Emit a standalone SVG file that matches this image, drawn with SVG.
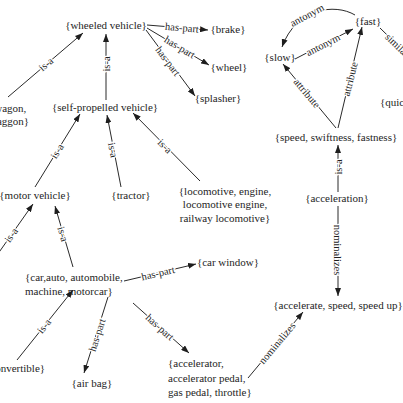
<svg xmlns="http://www.w3.org/2000/svg" width="403" height="403" viewBox="0 0 403 403" font-family="'Liberation Serif', 'DejaVu Serif', serif">
<style>
text{font-family:'Liberation Serif','DejaVu Serif',serif}
.n{font-size:11px;fill:#1e1e1e}
.m{text-anchor:middle}
.e{fill:none;stroke:#2a2a2a;stroke-width:1}
.l{font-size:10.5px;fill:#1e1e1e;text-anchor:middle;stroke:#fff;stroke-width:2.5px;paint-order:stroke;stroke-linejoin:round}
</style>
<defs>
<marker id="a" viewBox="0 0 8 6" refX="8" refY="3" markerWidth="8" markerHeight="6" markerUnits="userSpaceOnUse" orient="auto">
<path d="M0,0 L8,3 L0,6 z" fill="#1e1e1e"/>
</marker>
</defs>
<rect width="403" height="403" fill="#fff"/>
<g id="connectors">
<path class="e" marker-end="url(#a)" d="M147,25 L208,30"/>
<text class="l" dy="0.35em" transform="translate(182,27.5) rotate(5)">has-part</text>
<path class="e" marker-end="url(#a)" d="M147,28 L209,65"/>
<text class="l" dy="0.35em" transform="translate(180,47) rotate(31)">has-part</text>
<path class="e" marker-end="url(#a)" d="M146,30 L195,96"/>
<text class="l" dy="0.35em" transform="translate(168,61) rotate(53)">has-part</text>
<path class="e" marker-end="url(#a)" d="M8,97 L83,33"/>
<text class="l" dy="0.35em" transform="translate(46,64) rotate(-40)">is-a</text>
<path class="e" marker-end="url(#a)" d="M106,100 L106,34"/>
<text class="l" dy="0.35em" transform="translate(106,64) rotate(-90)">is-a</text>
<path class="e" marker-end="url(#a)" d="M35,187 L80,114"/>
<text class="l" dy="0.35em" transform="translate(57,151) rotate(-58)">is-a</text>
<path class="e" marker-end="url(#a)" d="M121,187 L107,115"/>
<text class="l" dy="0.35em" transform="translate(113,150) rotate(79)">is-a</text>
<path class="e" marker-end="url(#a)" d="M200,181 L133,113"/>
<text class="l" dy="0.35em" transform="translate(165,146) rotate(45)">is-a</text>
<path class="e" marker-end="url(#a)" d="M338,192 L338,145"/>
<text class="l" dy="0.35em" transform="translate(338,167) rotate(-90)">is-a</text>
<path class="e" marker-end="url(#a)" d="M338,206 L338,296"/>
<text class="l" dy="0.35em" transform="translate(338,250) rotate(90)">nominalizes</text>
<path class="e" marker-end="url(#a)" d="M338,128 L362,27"/>
<text class="l" dy="0.35em" transform="translate(350,79) rotate(-76)">attribute</text>
<path class="e" marker-end="url(#a)" d="M336,128 L283,64"/>
<text class="l" dy="0.35em" transform="translate(307,93) rotate(50)">attribute</text>
<path class="e" marker-end="url(#a)" d="M295,59 L353,29"/>
<text class="l" dy="0.35em" transform="translate(323,44.5) rotate(-27)">antonym</text>
<path class="e" marker-end="url(#a)" d="M355,15 C335,3 296,8 282,47"/>
<text class="l" dy="0.35em" transform="translate(307,15) rotate(-28)">antonym</text>
<path class="e" d="M380,28 L425,72"/>
<text class="l" dy="0.35em" style="text-anchor:start" transform="translate(387,35) rotate(44)">similar</text>
<path class="e" marker-end="url(#a)" d="M-5,258 L33,204"/>
<text class="l" dy="0.35em" transform="translate(11,235) rotate(-55)">is-a</text>
<path class="e" marker-end="url(#a)" d="M73,267 L55,206"/>
<text class="l" dy="0.35em" transform="translate(63,234) rotate(74)">is-a</text>
<path class="e" marker-end="url(#a)" d="M124,281 L196,264"/>
<text class="l" dy="0.35em" transform="translate(158,273) rotate(-13)">has-part</text>
<path class="e" marker-end="url(#a)" d="M17,360 L73,290"/>
<text class="l" dy="0.35em" transform="translate(44,326) rotate(-51)">is-a</text>
<path class="e" marker-end="url(#a)" d="M108,297 L84,373"/>
<text class="l" dy="0.35em" transform="translate(97,335) rotate(-72)">has-part</text>
<path class="e" marker-end="url(#a)" d="M133,303 L189,353"/>
<text class="l" dy="0.35em" transform="translate(160,327) rotate(42)">has-part</text>
<path class="e" marker-end="url(#a)" d="M248,378 L303,312"/>
<text class="l" dy="0.35em" transform="translate(277,343) rotate(-50)">nominalizes</text>
</g>
<g id="wheeled-vehicle"><text class="n m" x="106" y="29">{wheeled vehicle}</text></g>
<g id="brake"><text class="n m" x="228" y="33">{brake}</text></g>
<g id="wheel"><text class="n m" x="229" y="71">{wheel}</text></g>
<g id="splasher"><text class="n m" x="218" y="102">{splasher}</text></g>
<g id="self-propelled-vehicle"><text class="n m" x="105" y="111">{self-propelled vehicle}</text></g>
<g id="wagon"><text class="n" x="-11" y="112">{wagon,</text><text class="n" x="-11" y="125">waggon}</text></g>
<g id="motor-vehicle"><text class="n m" x="35" y="199">{motor vehicle}</text></g>
<g id="tractor"><text class="n m" x="131" y="199">{tractor}</text></g>
<g id="locomotive"><text class="n m" x="225" y="195">{locomotive, engine,</text><text class="n m" x="225" y="208">locomotive engine,</text><text class="n m" x="225" y="222">railway locomotive}</text></g>
<g id="acceleration"><text class="n m" x="337" y="202">{acceleration}</text></g>
<g id="speed"><text class="n m" x="336" y="141">{speed, swiftness, fastness}</text></g>
<g id="slow"><text class="n m" x="280" y="61">{slow}</text></g>
<g id="fast"><text class="n m" x="368" y="25">{fast}</text></g>
<g id="quick"><text class="n" x="380" y="106">{quick}</text></g>
<g id="accelerate"><text class="n m" x="338" y="309">{accelerate, speed, speed up}</text></g>
<g id="car-window"><text class="n m" x="228" y="266">{car window}</text></g>
<g id="car"><text class="n" x="25" y="281">{car,auto, automobile,</text><text class="n" x="25" y="295">machine, motorcar}</text></g>
<g id="convertible"><text class="n" x="-15" y="372">{convertible}</text></g>
<g id="air-bag"><text class="n m" x="92" y="387">{air bag}</text></g>
<g id="accelerator"><text class="n" x="168" y="367">{accelerator,</text><text class="n" x="168" y="382">accelerator pedal,</text><text class="n" x="168" y="396">gas pedal, throttle}</text></g>
</svg>
